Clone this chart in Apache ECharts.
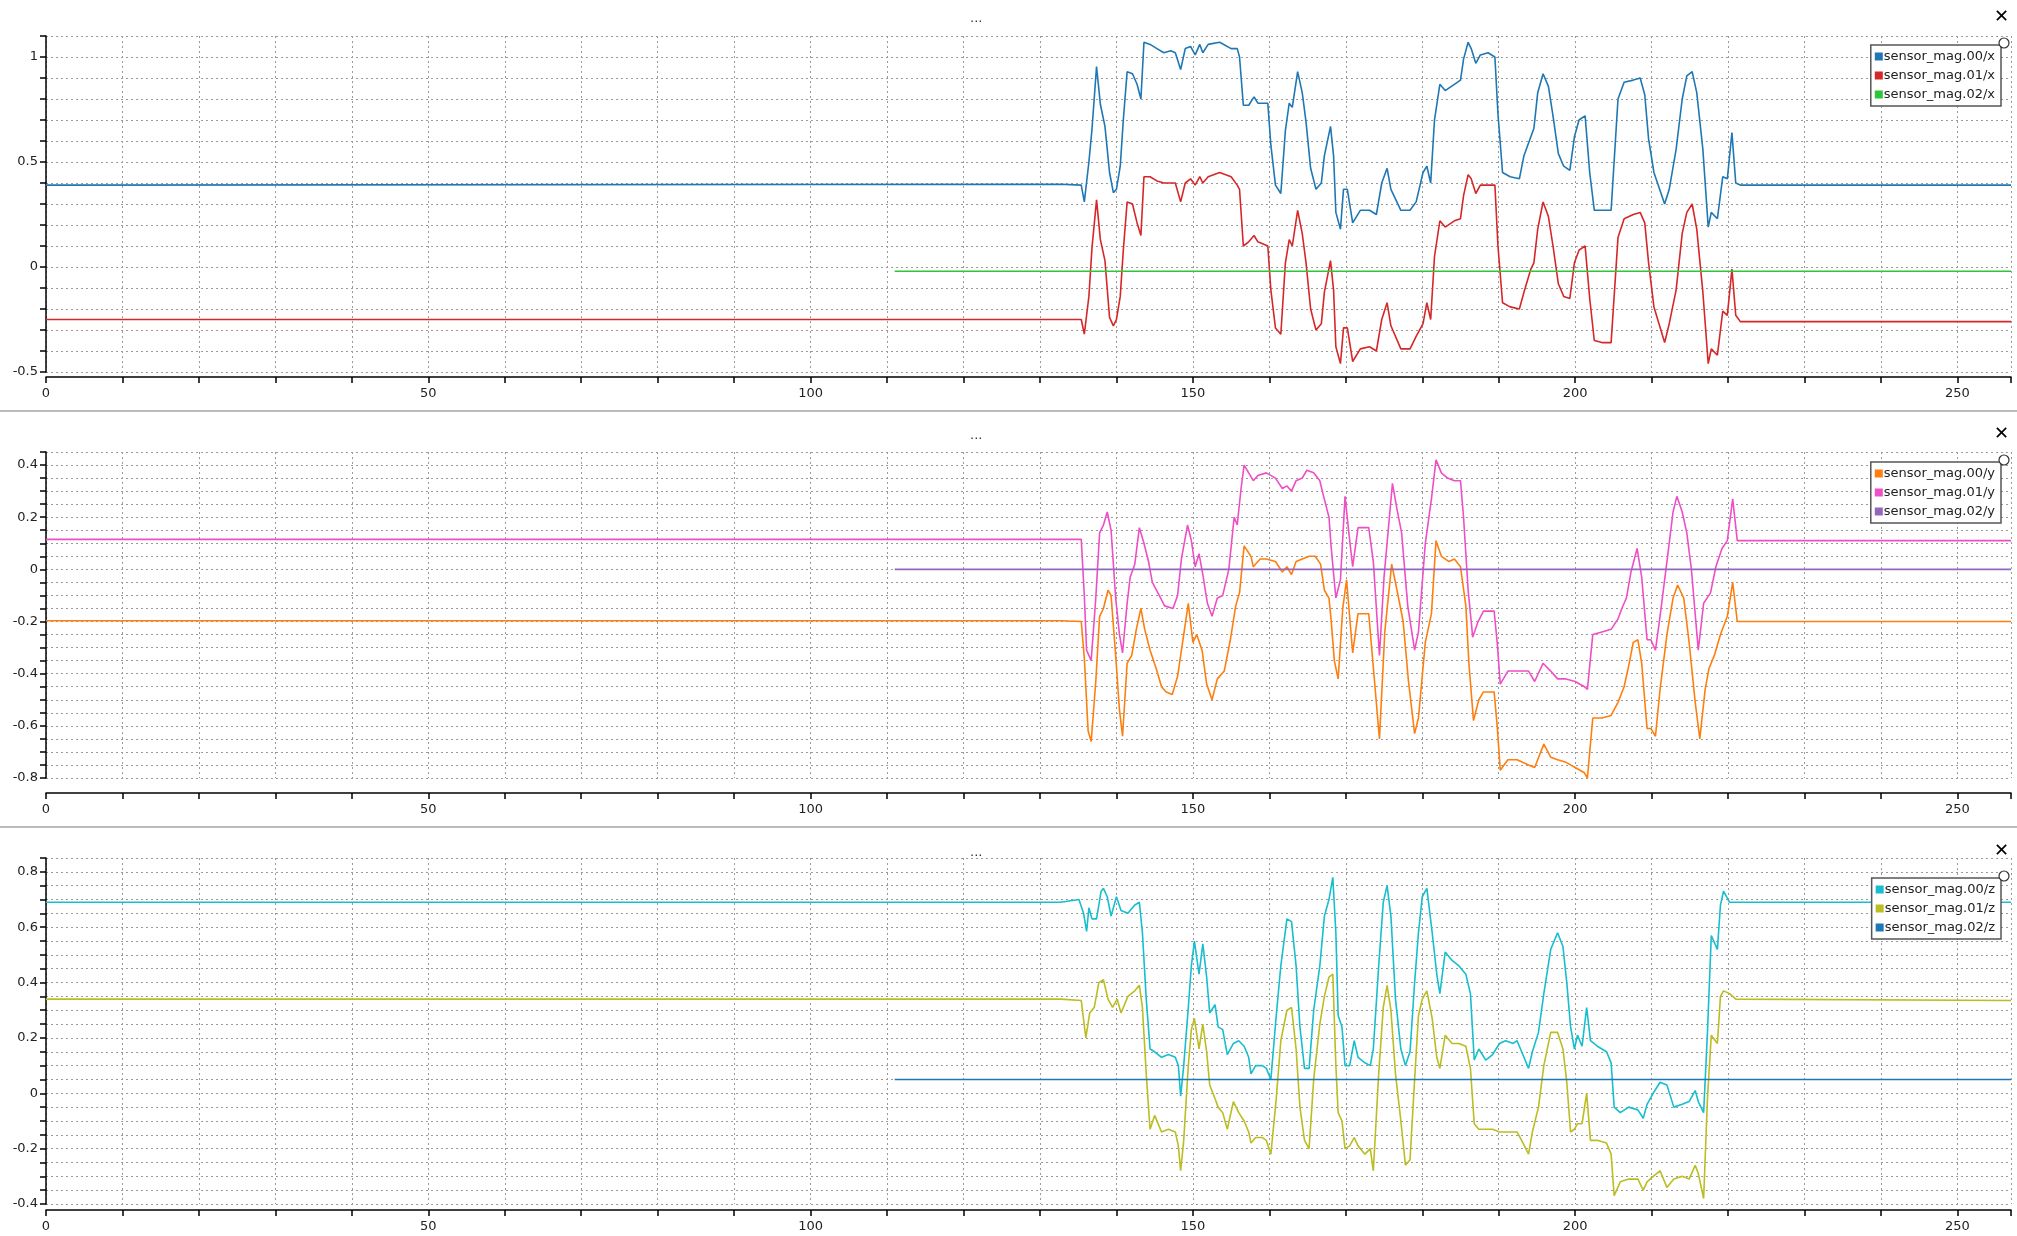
<!DOCTYPE html>
<html><head><meta charset="utf-8">
<script src="https://cdn.jsdelivr.net/npm/echarts@6/dist/echarts.min.js"></script>
<style>html,body{margin:0;padding:0;background:#fff}#c{width:2017px;height:1236px}</style>
</head><body><div id="c"></div>
<script>
// ---------- Panel 1 (x) ----------
const p1X = [0,132.7,135.4,135.8,136.4,136.8,137.4,137.9,138.5,139.1,139.6,140.0,140.5,140.9,141.4,142.1,142.7,143.2,143.6,144.4,145.3,146.2,147.1,147.7,148.4,149.0,149.7,150.3,150.9,151.3,152.0,153.5,155.0,155.8,156.1,156.6,157.3,158.0,158.5,159.8,160.2,160.8,161.5,162.1,162.6,163.0,163.7,164.3,164.8,165.4,166.1,166.8,167.2,168.0,168.4,168.7,169.3,169.7,170.2,170.9,171.9,173.1,174.0,174.7,175.4,175.9,177.2,178.4,179.2,180.1,180.6,181.1,181.6,182.3,183.0,184.2,185.0,185.4,186.0,186.4,187.0,187.6,188.6,189.5,189.9,190.5,191.5,192.7,193.3,194.2,194.6,195.1,195.8,196.5,197.1,197.8,198.5,199.3,199.9,200.5,201.3,201.9,202.5,203.5,204.7,205.6,206.4,207.6,208.5,209.1,209.6,210.3,211.7,212.3,213.2,214.0,214.6,215.3,215.9,216.7,217.4,217.8,218.6,219.3,219.9,220.5,221.0,221.6,257];
const mag00x = [0.39,0.394,0.39,0.31,0.50,0.655,0.954,0.775,0.67,0.45,0.354,0.37,0.48,0.70,0.93,0.92,0.87,0.80,1.07,1.06,1.04,1.02,1.03,1.02,0.94,1.04,1.05,1.01,1.06,1.02,1.06,1.07,1.04,1.04,1.0,0.77,0.77,0.81,0.78,0.78,0.58,0.39,0.35,0.65,0.78,0.76,0.93,0.83,0.69,0.47,0.37,0.40,0.53,0.67,0.53,0.26,0.18,0.37,0.37,0.21,0.27,0.27,0.25,0.40,0.47,0.37,0.27,0.27,0.31,0.45,0.48,0.40,0.70,0.87,0.84,0.87,0.89,0.99,1.07,1.04,0.97,1.01,1.02,1.0,0.73,0.45,0.43,0.42,0.53,0.62,0.66,0.83,0.92,0.86,0.72,0.54,0.48,0.46,0.62,0.70,0.72,0.45,0.27,0.27,0.27,0.80,0.88,0.89,0.90,0.82,0.61,0.45,0.30,0.37,0.56,0.80,0.91,0.93,0.83,0.56,0.19,0.26,0.23,0.43,0.42,0.64,0.40,0.39,0.39];
const mag01x = [-0.25,-0.25,-0.25,-0.32,-0.14,0.09,0.32,0.13,0.03,-0.24,-0.28,-0.25,-0.14,0.08,0.31,0.30,0.21,0.15,0.43,0.43,0.41,0.40,0.40,0.40,0.31,0.40,0.42,0.39,0.43,0.40,0.43,0.45,0.43,0.39,0.37,0.10,0.12,0.15,0.12,0.10,-0.11,-0.29,-0.32,0.02,0.13,0.10,0.27,0.16,0.02,-0.20,-0.30,-0.27,-0.12,0.03,-0.11,-0.38,-0.46,-0.29,-0.29,-0.45,-0.39,-0.38,-0.40,-0.25,-0.17,-0.28,-0.39,-0.39,-0.33,-0.27,-0.17,-0.25,0.05,0.22,0.19,0.22,0.23,0.34,0.44,0.42,0.35,0.39,0.39,0.39,0.10,-0.17,-0.19,-0.20,-0.12,-0.01,0.02,0.18,0.31,0.24,0.10,-0.08,-0.14,-0.15,0.02,0.08,0.10,-0.15,-0.35,-0.36,-0.36,0.14,0.23,0.25,0.26,0.21,0.02,-0.19,-0.36,-0.27,-0.11,0.16,0.26,0.30,0.18,-0.12,-0.46,-0.39,-0.42,-0.21,-0.23,-0.01,-0.23,-0.26,-0.26];
const p1ThirdX = [111,257];
const mag02x = [-0.02,-0.02];

// ---------- Panel 2 (y) ----------
const pinkX = [0,132.7,135.4,135.8,136.1,136.7,137.3,137.8,138.3,138.8,139.3,139.9,140.4,140.8,141.4,141.8,142.4,143.0,143.6,144.2,144.7,145.6,146.3,147.4,148.0,148.5,149.3,149.8,150.3,150.8,151.3,151.9,152.5,153.2,153.9,154.7,155.4,155.8,156.3,156.7,157.3,157.9,158.5,159.6,160.8,161.7,162.3,162.9,163.5,164.3,164.9,165.8,166.6,167.1,167.8,168.1,168.7,169.3,169.9,170.4,170.9,171.6,173.0,173.6,174.4,175.0,176.1,176.7,177.3,178.1,179.0,179.5,180.4,181.2,181.8,182.5,183.3,184.2,185.0,185.4,186.0,186.6,187.3,188.0,189.4,189.8,190.2,191.2,192.4,193.9,194.7,195.8,196.8,197.7,198.8,200.0,201.2,201.6,202.3,203.5,204.7,205.6,206.1,206.7,207.3,208.1,208.7,209.4,209.9,210.5,211.1,212.0,212.8,213.3,214.0,214.6,215.2,216.1,216.8,217.7,218.4,219.2,219.9,220.6,221.2,257];
const mag01y = [0.115,0.115,0.115,-0.10,-0.31,-0.35,-0.11,0.14,0.17,0.22,0.15,-0.11,-0.25,-0.32,-0.13,-0.03,0.02,0.16,0.10,0.03,-0.05,-0.10,-0.14,-0.15,-0.10,0.04,0.17,0.11,0.01,0.06,-0.02,-0.13,-0.18,-0.11,-0.10,0.00,0.20,0.17,0.31,0.40,0.37,0.34,0.36,0.37,0.35,0.31,0.32,0.30,0.34,0.35,0.38,0.37,0.34,0.28,0.20,0.08,-0.11,-0.04,0.28,0.14,0.01,0.16,0.16,0.03,-0.33,-0.03,0.33,0.23,0.14,-0.14,-0.31,-0.24,0.10,0.27,0.42,0.37,0.35,0.34,0.34,0.20,-0.08,-0.26,-0.20,-0.16,-0.16,-0.28,-0.44,-0.39,-0.39,-0.39,-0.43,-0.36,-0.39,-0.42,-0.42,-0.43,-0.45,-0.46,-0.25,-0.24,-0.23,-0.19,-0.15,-0.11,-0.01,0.08,-0.03,-0.27,-0.27,-0.31,-0.18,0.03,0.22,0.28,0.22,0.14,0.00,-0.31,-0.13,-0.09,0.01,0.08,0.11,0.27,0.11,0.11];
const orangeX = [0,132.7,135.4,135.8,136.3,136.7,137.3,137.8,138.3,138.9,139.3,139.9,140.4,140.8,141.4,142.0,142.6,143.2,143.7,144.4,145.2,145.9,146.5,147.3,148.0,148.7,149.4,150.0,150.5,151.2,151.8,152.5,153.2,154.1,154.9,155.6,156.1,156.7,157.6,157.9,158.8,159.6,160.8,161.7,162.3,162.9,163.5,164.3,165.2,166.0,166.7,167.2,167.8,168.1,168.5,169.0,169.6,170.1,170.5,170.9,171.6,173.0,173.7,174.4,175.1,176.0,176.7,177.5,178.2,179.0,179.5,180.4,181.2,181.8,182.5,183.5,184.2,185.0,185.7,186.1,186.7,187.4,188.0,189.4,189.8,190.2,191.2,192.4,193.9,194.7,195.9,196.8,197.7,198.8,200.0,201.2,201.6,202.3,203.5,204.7,205.6,206.4,207.0,207.6,208.2,208.7,209.4,209.9,210.5,211.1,212.0,212.8,213.4,214.2,214.9,215.7,216.3,217.0,217.5,218.2,219.0,219.9,220.6,221.2,257];
const mag00y = [-0.197,-0.197,-0.20,-0.34,-0.62,-0.66,-0.43,-0.18,-0.15,-0.08,-0.10,-0.33,-0.54,-0.64,-0.36,-0.33,-0.23,-0.15,-0.23,-0.31,-0.38,-0.45,-0.47,-0.48,-0.41,-0.27,-0.13,-0.28,-0.25,-0.31,-0.44,-0.50,-0.42,-0.39,-0.27,-0.14,-0.09,0.09,0.05,0.01,0.04,0.04,0.03,-0.01,0.01,-0.02,0.03,0.04,0.05,0.05,0.02,-0.08,-0.11,-0.20,-0.35,-0.42,-0.15,-0.04,-0.18,-0.32,-0.17,-0.17,-0.41,-0.65,-0.24,0.02,-0.08,-0.20,-0.43,-0.63,-0.57,-0.28,-0.17,0.11,0.05,0.03,0.04,0.01,-0.14,-0.36,-0.58,-0.50,-0.47,-0.47,-0.60,-0.77,-0.73,-0.73,-0.75,-0.76,-0.67,-0.72,-0.73,-0.74,-0.76,-0.78,-0.80,-0.57,-0.57,-0.56,-0.51,-0.45,-0.37,-0.28,-0.27,-0.36,-0.61,-0.61,-0.64,-0.46,-0.25,-0.11,-0.06,-0.11,-0.28,-0.51,-0.65,-0.46,-0.38,-0.33,-0.25,-0.18,-0.05,-0.20,-0.20];
const p2ThirdX = [111,257];
const mag02y = [0,0];

// ---------- Panel 3 (z) ----------
const cyanX = [0,132.7,135.1,135.7,136.1,136.4,136.8,137.4,138.0,138.3,138.8,139.3,140.0,140.6,141.5,142.4,143.0,143.4,143.9,144.4,145.0,145.9,146.8,147.7,148.1,148.4,148.8,149.4,149.8,150.2,150.8,151.3,151.8,152.2,152.9,153.3,153.9,154.5,155.3,156.0,156.7,157.3,157.6,158.2,159.1,159.6,160.2,160.9,161.5,162.3,162.9,163.5,164.0,164.6,165.2,165.8,166.6,167.2,167.8,168.3,168.7,169.0,169.5,169.9,170.5,171.1,171.6,172.5,173.2,173.6,174.3,174.9,175.4,175.9,176.5,177.2,177.8,178.4,179.0,179.5,180.0,180.6,181.3,181.9,182.3,183.0,183.9,184.8,185.7,186.3,186.8,187.4,188.3,189.2,190.1,190.9,191.9,192.4,193.0,193.9,194.4,195.2,195.9,196.8,197.7,198.4,198.9,199.4,199.9,200.3,200.9,201.5,202.0,202.9,204.1,204.7,205.1,205.9,207.0,208.2,208.9,209.4,210.2,211.1,212.0,212.9,214.0,214.9,215.7,216.1,216.8,217.3,217.8,218.6,219.0,219.4,220.2,221.0,257];
const mag00z = [0.69,0.69,0.70,0.65,0.585,0.67,0.63,0.63,0.73,0.74,0.71,0.64,0.71,0.66,0.65,0.68,0.69,0.58,0.34,0.16,0.15,0.13,0.14,0.13,0.10,-0.01,0.10,0.31,0.46,0.55,0.43,0.54,0.42,0.29,0.32,0.24,0.23,0.14,0.18,0.19,0.17,0.13,0.07,0.10,0.10,0.09,0.05,0.28,0.46,0.63,0.62,0.46,0.24,0.09,0.09,0.30,0.46,0.64,0.70,0.78,0.58,0.28,0.24,0.10,0.10,0.19,0.13,0.11,0.10,0.16,0.46,0.69,0.75,0.64,0.34,0.16,0.10,0.15,0.40,0.58,0.71,0.74,0.58,0.43,0.36,0.51,0.48,0.46,0.43,0.36,0.12,0.16,0.12,0.14,0.18,0.19,0.18,0.19,0.15,0.09,0.15,0.22,0.36,0.52,0.58,0.53,0.40,0.24,0.16,0.21,0.17,0.31,0.19,0.17,0.15,0.11,-0.05,-0.07,-0.05,-0.06,-0.09,-0.04,0.00,0.04,0.03,-0.05,-0.04,-0.03,0.01,-0.03,-0.07,0.22,0.57,0.52,0.68,0.73,0.69,0.69,0.69];
const oliveX = [0,132.7,135.4,136.0,136.5,137.1,137.7,138.3,138.9,139.5,140.1,140.6,141.5,142.4,143.0,143.4,143.9,144.4,145.0,145.9,146.8,147.7,148.1,148.4,148.8,149.4,149.8,150.2,150.8,151.3,151.8,152.2,152.9,153.3,153.9,154.5,155.3,156.0,156.7,157.3,157.6,158.2,159.1,159.6,160.2,160.9,161.5,162.3,162.9,163.5,164.0,164.6,165.2,165.8,166.6,167.2,167.8,168.3,168.7,169.0,169.5,169.9,170.5,171.1,171.6,172.5,173.2,173.6,174.3,174.9,175.4,175.9,176.5,177.2,177.8,178.4,179.0,179.5,180.0,180.6,181.3,181.9,182.3,183.0,183.9,184.8,185.7,186.3,186.8,187.4,188.3,189.2,190.1,190.9,191.9,192.4,193.0,193.9,194.4,195.2,195.9,196.8,197.7,198.4,198.9,199.4,199.9,200.3,200.9,201.5,202.0,202.9,204.1,204.7,205.1,205.9,207.0,208.2,208.9,209.4,210.2,211.1,212.0,212.9,214.0,214.9,215.7,216.1,216.8,217.3,217.8,218.6,219.0,219.4,220.2,221.0,257];
const mag01z = [0.34,0.34,0.335,0.20,0.29,0.31,0.40,0.41,0.34,0.31,0.34,0.29,0.35,0.37,0.39,0.31,0.07,-0.13,-0.08,-0.14,-0.13,-0.14,-0.19,-0.28,-0.17,0.10,0.23,0.27,0.16,0.25,0.15,0.03,-0.02,-0.05,-0.07,-0.13,-0.03,-0.07,-0.10,-0.14,-0.18,-0.16,-0.16,-0.17,-0.22,-0.02,0.19,0.30,0.31,0.16,-0.05,-0.17,-0.20,0.05,0.25,0.35,0.42,0.43,0.10,-0.07,-0.10,-0.20,-0.19,-0.16,-0.19,-0.22,-0.20,-0.28,0.07,0.31,0.39,0.30,0.07,-0.10,-0.26,-0.24,0.05,0.28,0.34,0.37,0.27,0.13,0.09,0.21,0.18,0.18,0.17,0.09,-0.11,-0.13,-0.13,-0.13,-0.14,-0.14,-0.14,-0.14,-0.17,-0.22,-0.14,-0.05,0.10,0.22,0.22,0.16,0.04,-0.14,-0.13,-0.11,-0.11,0.00,-0.17,-0.17,-0.18,-0.22,-0.37,-0.32,-0.31,-0.31,-0.35,-0.32,-0.30,-0.28,-0.34,-0.31,-0.30,-0.31,-0.26,-0.29,-0.38,-0.02,0.21,0.18,0.35,0.37,0.36,0.34,0.335];
const p3ThirdX = [111,257];
const mag02z = [0.05,0.05];

const xTickLabels = [0,50,100,150,200,250];

const chart = echarts.init(document.getElementById('c'));
const zip = (xs, ys) => xs.map((x, i) => [x, ys[i]]);
const FONT = 'DejaVu Sans';

const panels = [
  {top:36, h:336, min:-0.5, max:1.1, interval:0.1, labelStep:0.5, offset:5,
   series:[['sensor_mag.00/x','#1f77b4',p1X,mag00x],['sensor_mag.01/x','#d62728',p1X,mag01x],['sensor_mag.02/x','#2fc43a',p1ThirdX,mag02x]]},
  {top:452, h:326, min:-0.8, max:0.45, interval:0.05, labelStep:0.2, offset:15,
   series:[['sensor_mag.00/y','#ff7f0e',orangeX,mag00y],['sensor_mag.01/y','#ef4fc6',pinkX,mag01y],['sensor_mag.02/y','#9467bd',p2ThirdX,mag02y]]},
  {top:858, h:346, min:-0.4, max:0.85, interval:0.05, labelStep:0.2, offset:6,
   series:[['sensor_mag.00/z','#17becf',cyanX,mag00z],['sensor_mag.01/z','#bcbd22',oliveX,mag01z],['sensor_mag.02/z','#1f77b4',p3ThirdX,mag02z]]}
];

const grid=[], xAxis=[], yAxis=[], series=[], legend=[], graphic=[];
const titleY = [20, 437, 854];
const legendTop = [45, 462, 878];
panels.forEach((p, i) => {
  grid.push({left:46, right:6, top:p.top, height:p.h});
  xAxis.push({type:'value', gridIndex:i, min:0, max:257, interval:10, offset:p.offset,
    axisLine:{onZero:false, lineStyle:{color:'#000', width:1.5}},
    axisTick:{length:6, lineStyle:{color:'#000', width:1.5}},
    axisLabel:{color:'#222', fontFamily:FONT, fontSize:13, margin:10,
      formatter:v => xTickLabels.includes(Math.round(v)) && Math.abs(v-Math.round(v))<1e-6 ? String(Math.round(v)) : ''},
    splitLine:{show:true, lineStyle:{color:'#9a9a9a', type:[2,3], width:1}}});
  yAxis.push({type:'value', gridIndex:i, min:p.min, max:p.max, interval:p.interval,
    axisLine:{show:true, onZero:false, lineStyle:{color:'#000', width:1.5}},
    axisTick:{show:true, length:6, lineStyle:{color:'#000', width:1.5}},
    axisLabel:{color:'#222', fontFamily:FONT, fontSize:13, margin:8,
      formatter:v => { const r = Math.round(v / p.labelStep); return Math.abs(v - r*p.labelStep) < 1e-6 ? String(+(r*p.labelStep).toFixed(2)) : ''; }},
    splitLine:{show:true, lineStyle:{color:'#9a9a9a', type:[2,3], width:1}}});
  p.series.forEach(s => {
    series.push({name:s[0], type:'line', xAxisIndex:i, yAxisIndex:i, data:zip(s[2], s[3]),
      showSymbol:false, symbol:'none', lineStyle:{color:s[1], width:1.6}, itemStyle:{color:s[1]},
      animation:false, z:3});
  });
  legend.push({data:p.series.map(s=>({name:s[0], icon:'rect'})), orient:'vertical', right:16, top:legendTop[i],
    itemWidth:8, itemHeight:8, itemGap:6, padding:[5,6,5,4], borderColor:'#555', borderWidth:1.5,
    backgroundColor:'#fff', textStyle:{fontFamily:FONT, fontSize:13, color:'#222', padding:[0,0,0,-4]}});
  graphic.push({type:'text', left:970, top:titleY[i]-8, style:{text:'...', font:'13px DejaVu Sans', fill:'#333'}});
  graphic.push({type:'text', right:8, top:titleY[i]-12, style:{text:'✕', font:'bold 18px DejaVu Sans', fill:'#000'}});
  graphic.push({type:'circle', shape:{cx:2004, cy:legendTop[i]-2, r:5}, style:{fill:'#fff', stroke:'#333', lineWidth:1.2}, z:100});
});
graphic.push({type:'rect', shape:{x:0, y:410, width:2017, height:2}, style:{fill:'#bbb'}});
graphic.push({type:'rect', shape:{x:0, y:826, width:2017, height:2}, style:{fill:'#bbb'}});

chart.setOption({animation:false, backgroundColor:'#fff', grid, xAxis, yAxis, series, legend, graphic});
</script></body></html>
